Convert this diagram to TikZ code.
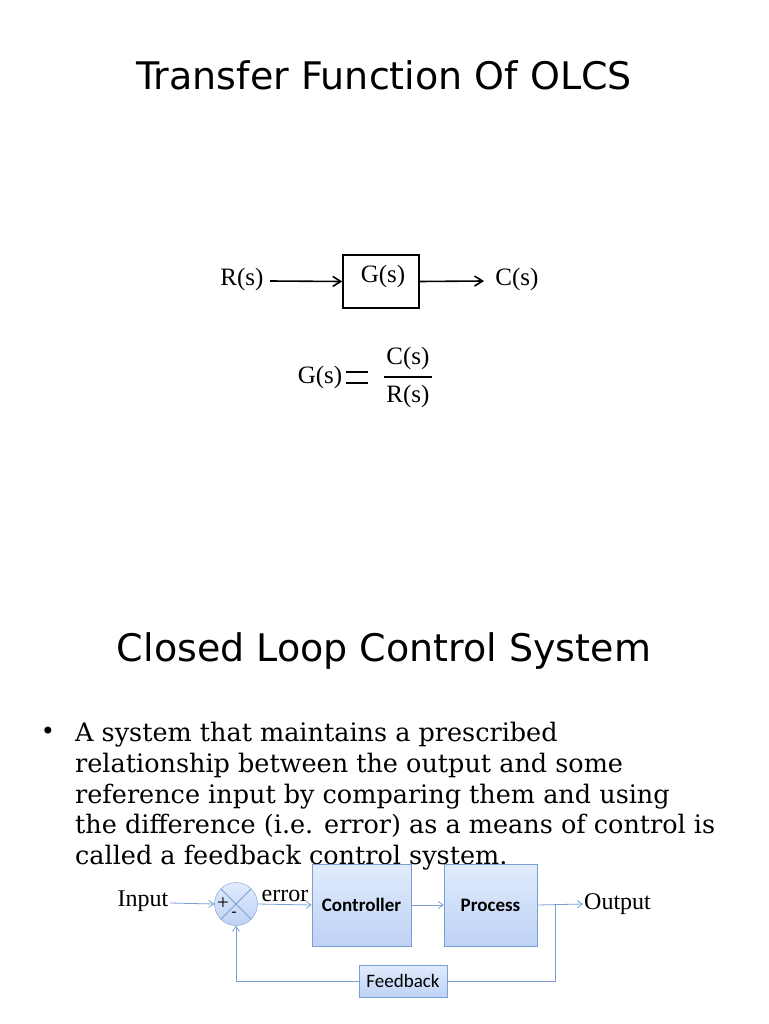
\documentclass[tikz,border=0pt]{standalone}
\usepackage{fontspec}
\setmainfont{Liberation Serif}
\newfontfamily\titlef{DejaVu Sans}
\newfontfamily\bodyf{DejaVu Serif}
\newfontfamily\boxf{Carlito}
\usetikzlibrary{arrows.meta,shadows}
\definecolor{bl}{RGB}{120,160,210}
\definecolor{fillA}{RGB}{225,235,252}
\definecolor{fillB}{RGB}{190,210,245}
\tikzset{
 blk/.style={draw=bl,top color=fillA,bottom color=fillB,drop shadow={opacity=0.25,shadow xshift=1pt,shadow yshift=-1pt},inner sep=0pt,font=\boxf\fontsize{17}{20}\selectfont},
 bline/.style={draw=bl,line width=0.8pt},
 barr/.style={bline,-{Straight Barb[length=5pt,width=7pt]}},
 karr/.style={line width=1.6pt,-{Straight Barb[length=8pt,width=10pt,line width=1.6pt]}},
 olc/.style={font=\fontsize{25}{28}\selectfont},
 dlab/.style={font=\fontsize{24}{27}\selectfont},
}
\begin{document}
\begin{tikzpicture}[x=1pt,y=-1pt]
\useasboundingbox (0,0) rectangle (768,1024);
\node[font=\titlef\fontsize{38}{44}\selectfont] (t1) at (384,75) {Transfer Function Of OLCS};
\node[font=\titlef\fontsize{38}{44}\selectfont] (t2) at (384,651) {Closed Loop Control System};
% OLCS
\node[olc] (R) at (242,279) {R(s)};
\node[draw,line width=1.5pt,minimum width=76pt,minimum height=53pt] (G) at (381,281.5) {};
\node[olc] at (383,276) {G(s)};
\node[olc] (C) at (517,279) {C(s)};
\coordinate (ce) at (484,281);
\draw[karr] (270,281) -- (G.west);
\draw[karr] (G.east) -- (ce);
\node[olc] (eq) at (320,377) {G(s)};
\draw[line width=2.4pt] (346,372) -- (368,372) (346,383) -- (368,383);
\node[olc] (num) at (408,358) {C(s)};
\node[olc] (den) at (408,396) {R(s)};
\draw[line width=1.3pt] (384,377) -- (432,377);
% body text
\node[anchor=north west,align=left,inner sep=0pt,font=\bodyf\fontsize{25.5}{30.8}\selectfont] (body) at (75,722) {A system that maintains a prescribed\\relationship between the output and some\\reference input by comparing them and using\\the difference (i.e. error) as a means of control is\\called a feedback control system.};
\node[font=\bodyf\fontsize{24}{26}\selectfont] (bul) at (48,733) {•};
% CLCS diagram
\node[dlab] (in) at (143,901) {Input};
\node[circle,draw=bl,top color=fillA,bottom color=fillB,minimum size=43pt,inner sep=0pt] (sum) at (236,904) {};
\draw[bline] (sum.north west) -- (sum.south east) (sum.north east) -- (sum.south west);
\node[font=\fontsize{21}{21}\selectfont] at (223,904) {+};
\node[font=\fontsize{16}{16}\selectfont] at (234,914) {-};
\node[blk,font=\boxf\bfseries\fontsize{19}{22}\selectfont,minimum width=99pt,minimum height=82pt] (ctl) at (361.5,905) {Controller};
\node[blk,font=\boxf\bfseries\fontsize{19}{22}\selectfont,minimum width=93pt,minimum height=82pt] (proc) at (490.5,905) {Process};
\node[blk,font=\boxf\fontsize{19}{22}\selectfont,minimum width=88pt,minimum height=32pt] (fb) at (403,981) {Feedback};
\node[dlab,anchor=west,inner sep=1pt] (out) at (583,904) {Output};
\node[dlab] (err) at (285,896) {error};
\coordinate (br) at (555,905);
\draw[barr] (170,903) -- (sum.west);
\draw[barr] (sum.east) -- (ctl.west);
\draw[barr] (ctl.east) -- (proc.west);
\draw[barr] (proc.east) -- (out.west);
\draw[bline] (br) |- (fb.east);
\draw[barr] (fb.west) -| (sum.south);
\end{tikzpicture}
\end{document}
